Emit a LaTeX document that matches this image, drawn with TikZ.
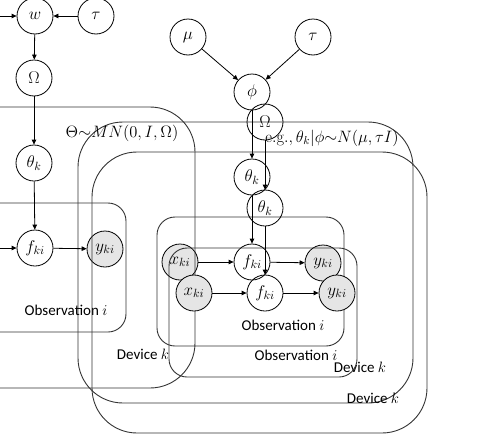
\RequirePackage{fix-cm}
\documentclass[tikz,border=0pt]{standalone}
\usepackage{fontspec}
\newfontfamily\carlito{Carlito}
\usetikzlibrary{arrows.meta}
\tikzset{
  var/.style={circle, draw=black, line width=0.8pt, minimum size=36pt, inner sep=0pt, font=\fontsize{17}{20}\selectfont},
  obs/.style={var, fill=black!10},
  devplate/.style={draw=black!80, line width=0.9pt, rounded corners=45pt},
  obsplate/.style={draw=black!80, line width=0.9pt, rounded corners=18pt},
  edge/.style={-{Triangle[length=5pt,width=4.5pt]}, line width=0.8pt},
  txt/.style={inner sep=0pt, font=\carlito\fontsize{15}{18}\selectfont},
  mtxt/.style={inner sep=0pt, font=\fontsize{16.5}{20}\selectfont},
}
\begin{document}
\begin{tikzpicture}[x=1pt,y=-1pt]
\useasboundingbox (0,0) rectangle (498,442);
\clip (0,0) rectangle (498,442);
% ---------- right figure, first copy ----------
\draw[devplate] (78,122) rectangle (413,403);
\draw[obsplate] (157,217) rectangle (344,346);
\node[var] (mu) at (188,37) {$\mu$};
\node[var] (tauR) at (313,37) {$\tau$};
\node[var] (phi) at (252,92) {$\phi$};
\node[var] (thA) at (252,177) {$\theta_k$};
\node[obs] (xA) at (180,262) {$x_{ki}$};
\node[var] (fA) at (252,262) {$f_{ki}$};
\node[obs] (yA) at (323,263) {$y_{ki}$};
\draw[edge] (mu) -- (phi);
\draw[edge] (tauR) -- (phi);
\draw[edge] (phi) -- (thA);
\draw[edge] (thA) -- (fA);
\draw[edge] (xA) -- (fA);
\draw[edge] (fA) -- (yA);
\node[mtxt] (eg) at (332,138) {$\mathrm{e.g.,}\,\theta_k|\phi{\sim}N(\mu,\tau I)$};
\node[txt] (obsA) at (283,325) {Observation $i$};
\node[txt] (devA) at (360,367) {Device $k$};
% ---------- left figure ----------
\draw[devplate] (-139,107) rectangle (195,388);
\draw[obsplate] (-62,203) rectangle (126,332);
\node[var] (wL) at (35,16) {$w$};
\node[var] (tauL) at (96,16) {$\tau$};
\node[var] (OmL) at (34,78) {$\Omega$};
\node[var] (thL) at (34,163) {$\theta_k$};
\node[var] (fL) at (35,248) {$f_{ki}$};
\node[obs] (yL) at (105,249) {$y_{ki}$};
\coordinate (inW) at (-5,16);
\coordinate (inF) at (-5,248);
\draw[edge] (inW) -- (wL);
\draw[edge] (tauL) -- (wL);
\draw[edge] (wL) -- (OmL);
\draw[edge] (OmL) -- (thL);
\draw[edge] (thL) -- (fL);
\draw[edge] (inF) -- (fL);
\draw[edge] (fL) -- (yL);
\node[mtxt] (theta) at (122,133) {$\Theta{\sim}MN(0,I,\Omega)$};
\node[txt] (obsL) at (66,310) {Observation $i$};
\node[txt] (devL) at (143,354) {Device $k$};
% ---------- second copy ----------
\draw[devplate] (92,152) rectangle (427,433);
\draw[obsplate] (169,248) rectangle (357,377);
\node[var] (OmR) at (265,122) {$\Omega$};
\node[var] (thB) at (265,208) {$\theta_k$};
\node[obs] (xB) at (194,293) {$x_{ki}$};
\node[var] (fB) at (265,293) {$f_{ki}$};
\node[obs] (yB) at (337,293) {$y_{ki}$};
\draw[edge] (OmR) -- (thB);
\draw[edge] (thB) -- (fB);
\draw[edge] (xB) -- (fB);
\draw[edge] (fB) -- (yB);
\node[txt] (obsB) at (296,355) {Observation $i$};
\node[txt] (devB) at (373,398) {Device $k$};
\end{tikzpicture}
\end{document}
